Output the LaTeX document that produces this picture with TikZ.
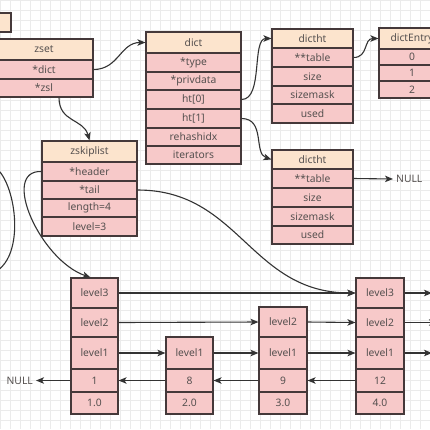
\documentclass[tikz,border=0pt]{standalone}
\usepackage{fontspec}
\setmainfont{Noto Sans}
\usetikzlibrary{arrows.meta}
\definecolor{hdrfill}{HTML}{FCE4CD}
\definecolor{rowfill}{HTML}{F7C9C9}
\definecolor{edge}{HTML}{45393A}
\definecolor{txt}{HTML}{55504F}
\definecolor{gridc}{HTML}{EBEBEB}
\definecolor{wire}{HTML}{333333}
\tikzset{
  cellbase/.style={draw=edge, line width=1.1pt, inner sep=0pt, text=txt, font=\fontsize{10.3}{12}\selectfont},
  hdr/.style={cellbase, fill=hdrfill},
  rowc/.style={cellbase, fill=rowfill},
  arr/.style={draw=wire, line width=1.1pt, -{Stealth[length=8pt,width=6.5pt,inset=2pt]}},
  plain/.style={draw=wire, line width=1.1pt},
  nulltxt/.style={text=txt, font=\fontsize{10.3}{12}\selectfont, inner sep=3pt}
}
\newcommand\cellbox[7]{%
  \pgfmathsetmacro\cellW{#5-#3}\pgfmathsetmacro\cellH{#6-#4}%
  \pgfmathsetmacro\cellX{(#3+#5)/2}\pgfmathsetmacro\cellY{(#4+#6)/2}%
  \node[#2, minimum width=\cellW pt, minimum height=\cellH pt] (#1) at (\cellX,\cellY) {#7};}
\begin{document}
\begin{tikzpicture}[x={(1pt,0)}, y={(0,-1pt)}]
\useasboundingbox (0,0) rectangle (430,429);
\clip (0,0) rectangle (430,429);
\fill[white] (0,0) rectangle (430,429);
\draw[gridc, line width=0.5pt] (0,0) grid[step=10pt] (430,429);

% partial box at top-left
\cellbox{part}{hdr}{-5}{13}{11}{32}{}

% zset
\cellbox{zset-h}{hdr}{-5}{39}{93}{60}{zset}
\cellbox{zset-dict}{rowc}{-5}{60}{93}{79}{*dict}
\cellbox{zset-zsl}{rowc}{-5}{79}{93}{97}{*zsl}

% dict
\cellbox{dict-h}{hdr}{146}{32}{241}{53}{dict}
\cellbox{dict-type}{rowc}{146}{53}{241}{72}{*type}
\cellbox{dict-priv}{rowc}{146}{72}{241}{90}{*privdata}
\cellbox{dict-ht0}{rowc}{146}{90}{241}{109}{ht[0]}
\cellbox{dict-ht1}{rowc}{146}{109}{241}{128}{ht[1]}
\cellbox{dict-rh}{rowc}{146}{128}{241}{146}{rehashidx}
\cellbox{dict-it}{rowc}{146}{146}{241}{164}{iterators}

% dictht (top)
\cellbox{dtA-h}{hdr}{272}{29}{353}{48}{dictht}
\cellbox{dtA-table}{rowc}{272}{48}{353}{67}{**table}
\cellbox{dtA-size}{rowc}{272}{67}{353}{86}{size}
\cellbox{dtA-mask}{rowc}{272}{86}{353}{104}{sizemask}
\cellbox{dtA-used}{rowc}{272}{104}{353}{123}{used}

% dictEntry
\cellbox{de-h}{hdr}{379}{28}{445}{49}{dictEntry}
\cellbox{de-0}{rowc}{379}{49}{445}{65}{0}
\cellbox{de-1}{rowc}{379}{65}{445}{81}{1}
\cellbox{de-2}{rowc}{379}{81}{445}{98}{2}

% zskiplist
\cellbox{zsk-h}{hdr}{42}{141}{137}{162}{zskiplist}
\cellbox{zsk-head}{rowc}{42}{162}{137}{181}{*header}
\cellbox{zsk-tail}{rowc}{42}{181}{137}{199}{*tail}
\cellbox{zsk-len}{rowc}{42}{199}{137}{217}{length=4}
\cellbox{zsk-lvl}{rowc}{42}{217}{137}{236}{level=3}

% dictht (bottom)
\cellbox{dtB-h}{hdr}{272}{150}{353}{169}{dictht}
\cellbox{dtB-table}{rowc}{272}{169}{353}{188}{**table}
\cellbox{dtB-size}{rowc}{272}{188}{353}{207}{size}
\cellbox{dtB-mask}{rowc}{272}{207}{353}{226}{sizemask}
\cellbox{dtB-used}{rowc}{272}{226}{353}{244}{used}
\node[nulltxt, anchor=west] (nullA) at (393,179) {NULL};

% skiplist nodes
\cellbox{n1-l3}{rowc}{71}{278}{118}{308}{level3}
\cellbox{n1-l2}{rowc}{71}{308}{118}{337}{level2}
\cellbox{n1-l1}{rowc}{71}{337}{118}{369}{level1}
\cellbox{n1-v}{rowc}{71}{369}{118}{392}{1}
\cellbox{n1-s}{rowc}{71}{392}{118}{414}{1.0}

\cellbox{n8-l1}{rowc}{166}{337}{213}{369}{level1}
\cellbox{n8-v}{rowc}{166}{369}{213}{392}{8}
\cellbox{n8-s}{rowc}{166}{392}{213}{414}{2.0}

\cellbox{n9-l2}{rowc}{259}{307}{307}{337}{level2}
\cellbox{n9-l1}{rowc}{259}{337}{307}{369}{level1}
\cellbox{n9-v}{rowc}{259}{369}{307}{392}{9}
\cellbox{n9-s}{rowc}{259}{392}{307}{414}{3.0}

\cellbox{n12-l3}{rowc}{356}{278}{404}{308}{level3}
\cellbox{n12-l2}{rowc}{356}{308}{404}{337}{level2}
\cellbox{n12-l1}{rowc}{356}{337}{404}{369}{level1}
\cellbox{n12-v}{rowc}{356}{369}{404}{392}{12}
\cellbox{n12-s}{rowc}{356}{392}{404}{414}{4.0}

\node[nulltxt, anchor=east] (nullB) at (36,380.5) {NULL};

\coordinate (r3) at (432,293);
\coordinate (r2) at (437,322.5);
\coordinate (r1) at (432,353);

% curved connectors
\draw[arr] (zset-dict.east) .. controls +(25,0) and +(-25,0) .. (dict-h.west);
\draw[arr] ([xshift=15pt]zset-zsl.south) .. controls +(0,25) and +(-6,-22) .. (zsk-h.north);
\draw[arr] (dict-ht0.east) .. controls +(22,0) and +(-20,0) .. (dtA-h.west);
\draw[arr] (dict-ht1.east) .. controls +(24,0) and +(-18,-6) .. (dtB-h.west);
\draw[arr] (dtA-table.east) .. controls +(15,0) and +(-15,0) .. (de-h.west);
\draw[arr] (dtB-table.east) -- (nullA.west);
\draw[arr] (zsk-head.west) .. controls (0,170) and (40,260) .. ([xshift=-4pt]n1-l3.north);
\draw[arr] (zsk-tail.east) .. controls (240,190) and (250,293) .. (n12-l3.west);
\draw[plain] (-10,165) .. controls (15,170) and (30,262) .. (-10,274);

% skiplist pointers
\draw[arr] (n1-l3.east) -- (n12-l3.west);
\draw[arr] (n1-l2.east) -- (n9-l2.west);
\draw[arr] (n9-l2.east) -- (n12-l2.west);
\draw[arr] (n1-l1.east) -- (n8-l1.west);
\draw[arr] (n8-l1.east) -- (n9-l1.west);
\draw[arr] (n9-l1.east) -- (n12-l1.west);
\draw[arr] (n8-v.west) -- (n1-v.east);
\draw[arr] (n9-v.west) -- (n8-v.east);
\draw[arr] (n12-v.west) -- (n9-v.east);
\draw[arr] (n1-v.west) -- (nullB.east);
\draw[arr] (n12-l3.east) -- (r3);
\draw[arr] (n12-l2.east) -- (r2);
\draw[arr] (n12-l1.east) -- (r1);
\end{tikzpicture}
\end{document}
